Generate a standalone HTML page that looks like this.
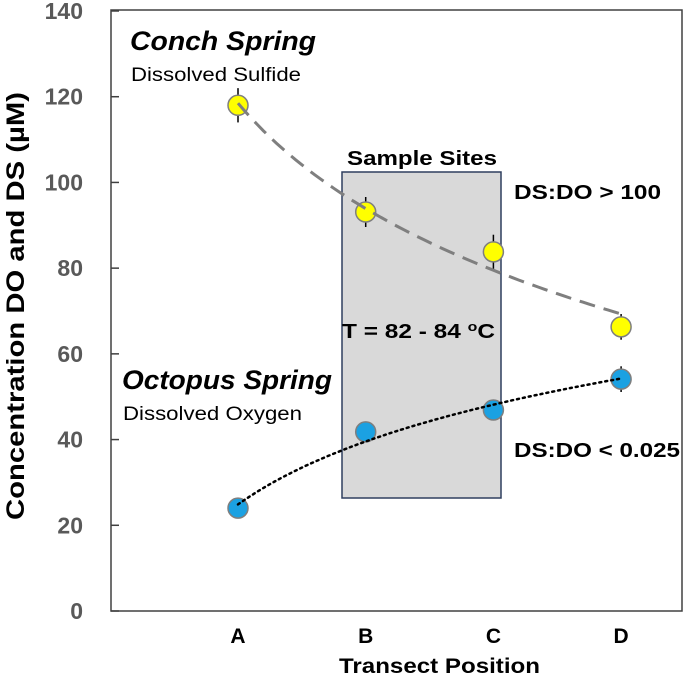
<!DOCTYPE html>
<html><head><meta charset="utf-8"><style>
body{margin:0;background:#fff}
svg{display:block;font-family:"Liberation Sans",sans-serif}
</style></head><body>
<svg id="chart" width="685" height="683">
<rect x="111" y="10" width="571" height="601" fill="#fff" stroke="#404040" stroke-width="1.5"/>
<rect x="342" y="172" width="159" height="326" fill="#d9d9d9" stroke="#2f3f5f" stroke-width="1.5"/>
<text x="347" y="165" font-weight="bold" font-size="20" textLength="150" lengthAdjust="spacingAndGlyphs" fill="#000">Sample Sites</text>
<text x="342" y="338" font-weight="bold" font-size="20" textLength="153" lengthAdjust="spacingAndGlyphs" fill="#000">T = 82 - 84 <tspan baseline-shift="super" font-size="13">o</tspan>C</text>
<text x="130" y="50" font-weight="bold" font-style="italic" font-size="27" textLength="186" lengthAdjust="spacingAndGlyphs" fill="#000">Conch Spring</text>
<text x="131" y="81" font-size="19" textLength="170" lengthAdjust="spacingAndGlyphs" fill="#000">Dissolved Sulfide</text>
<text x="122" y="389" font-weight="bold" font-style="italic" font-size="27" textLength="210" lengthAdjust="spacingAndGlyphs" fill="#000">Octopus Spring</text>
<text x="123" y="420" font-size="19" textLength="179" lengthAdjust="spacingAndGlyphs" fill="#000">Dissolved Oxygen</text>
<text x="514" y="199" font-weight="bold" font-size="20" textLength="147" lengthAdjust="spacingAndGlyphs" fill="#000">DS:DO &gt; 100</text>
<text x="514" y="457" font-weight="bold" font-size="20" textLength="166" lengthAdjust="spacingAndGlyphs" fill="#000">DS:DO &lt; 0.025</text>
<text x="339" y="673" font-weight="bold" font-size="21" textLength="201" lengthAdjust="spacingAndGlyphs" fill="#000">Transect Position</text>
<text transform="translate(24,520) rotate(-90)" font-weight="bold" font-size="25" textLength="428" lengthAdjust="spacingAndGlyphs" fill="#000">Concentration DO and DS (µM)</text>
<g id="ticks"></g><g id="marks"></g>
</svg>
<script>
const categories=["A","B","C","D"];
const sulfide=[118,93.1,83.8,66.3];
const oxygen=[24,41.8,46.9,54.1];
const yTicks=[0,20,40,60,80,100,120,140];
const errS=[4,3.5,4,3];
const errO=[2,1.5,2,3];
const NS="http://www.w3.org/2000/svg";
const X=i=>238+i*127.7;
const Y=v=>611-v*600/140;
function mk(t,a,p){const e=document.createElementNS(NS,t);for(const k in a)e.setAttribute(k,a[k]);(p||document.getElementById('marks')).appendChild(e);return e;}
const tg=document.getElementById('ticks');
yTicks.forEach(v=>{
 const l=mk('line',{x1:111,x2:119,y1:Y(v),y2:Y(v),stroke:'#404040','stroke-width':1.5},tg);
 
 
 const t=mk('text',{x:83,y:Y(v)+8,'text-anchor':'end','font-weight':'bold','font-size':23,fill:'#595959'},tg);
 t.textContent=v;
 
 
});
categories.forEach((c,i)=>{
 const t=mk('text',{x:X(i),y:643,'text-anchor':'middle','font-weight':'bold','font-size':21,fill:'#000'},tg);
 t.textContent=c;
 
 
});
function logFit(vals){const n=vals.length;const xs=vals.map((_,i)=>Math.log(i+1));const mx=xs.reduce((a,b)=>a+b)/n,my=vals.reduce((a,b)=>a+b)/n;let sxy=0,sxx=0;xs.forEach((x,i)=>{sxy+=(x-mx)*(vals[i]-my);sxx+=(x-mx)**2});const b=sxy/sxx;return [my-b*mx,b];}
function trend(vals,attrs,name){const [a,b]=logFit(vals);let d='';for(let k=0;k<=60;k++){const t=k/60*(vals.length-1);const v=a+b*Math.log(t+1);d+=(k?'L':'M')+X(t).toFixed(1)+','+Y(v).toFixed(1);}const p=mk('path',Object.assign({d:d,fill:'none'},attrs));}
function points(vals,err,fill,name){vals.forEach((v,i)=>{const e=mk('line',{x1:X(i),x2:X(i),y1:Y(v+err[i]),y2:Y(v-err[i]),stroke:'#000','stroke-width':1.5});});
vals.forEach((v,i)=>{const c=mk('circle',{cx:X(i),cy:Y(v),r:10,fill:fill,stroke:'#7f7f7f','stroke-width':1.5});});}
points(sulfide,errS,'#ffff00','sulfide');
points(oxygen,errO,'#1ba1e2','oxygen');
trend(sulfide,{stroke:'#7f7f7f','stroke-width':3,'stroke-dasharray':'16,9'},'sulfide-trendline');
trend(oxygen,{stroke:'#000','stroke-width':2.5,'stroke-dasharray':'2,4','stroke-linecap':'round'},'oxygen-trendline');
</script>
</body></html>
